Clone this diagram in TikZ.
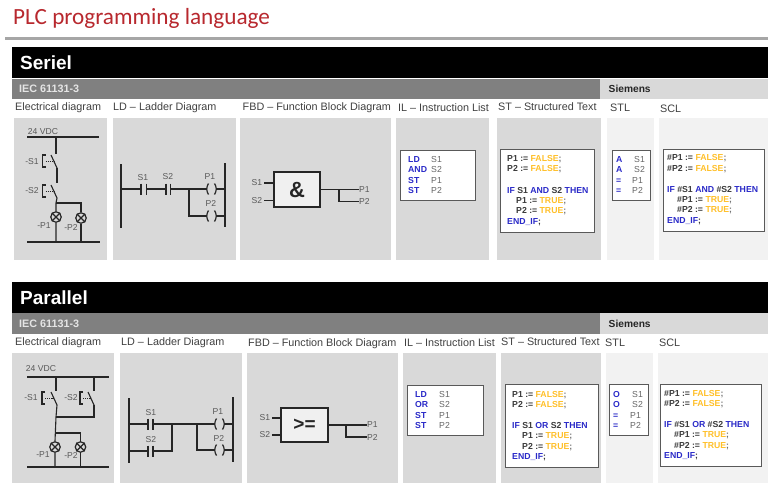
\documentclass[tikz,border=0pt]{standalone}
\usepackage{fontspec}
\setmainfont{Liberation Sans}
\newfontfamily\carlito{Carlito}
\definecolor{ttl}{HTML}{B8282E}
\definecolor{panelA}{HTML}{D9D9D9}
\definecolor{panelB}{HTML}{F2F2F2}
\definecolor{bandA}{HTML}{808080}
\definecolor{kwblue}{HTML}{2A2AC8}
\definecolor{valyel}{HTML}{FFC02A}
\definecolor{ink}{HTML}{404040}
\definecolor{dark}{HTML}{262626}
\definecolor{code}{HTML}{3A3A3A}
\newcommand{\kw}[1]{\textcolor{kwblue}{#1}}
\newcommand{\vl}[1]{\textcolor{valyel}{#1}}
\newcommand{\fs}[1]{\fontsize{#1}{#1}\selectfont}
\tikzset{
  x=1pt,y=-1pt,
  txt/.style={anchor=west,inner sep=0pt,text depth=0pt,execute at begin node={\rule{0pt}{.72em}}},
  head/.style={txt,font=\fs{10.8},text=ink},
  secttl/.style={txt,font=\fs{19}\bfseries,text=white},
  iec/.style={txt,font=\fs{10.8}\bfseries,text=white!90!black},
  siem/.style={txt,font=\fs{10.2}\bfseries,text=dark},
  pa/.style={fill=panelA,draw=none},
  pb/.style={fill=panelB,draw=none},
  codebox/.style={fill=white,draw=black!65,line width=.8pt},
  cb/.style={txt,font=\fs{8.7}\bfseries,text=code},
  cbk/.style={cb,text=kwblue},
  cn/.style={txt,font=\fs{8.7},text=black!60},
  wire/.style={draw=dark,line width=1.3pt},
  thin wire/.style={draw=dark,line width=1.1pt},
  act/.style={draw=dark,line width=.5pt,dash pattern=on 1.2pt off .9pt},
  lbl/.style={anchor=center,inner sep=0pt,font=\fs{8.6},text=black!65},
  lamp/.style={circle,draw=dark,line width=1.2pt,fill=panelA,minimum size=10.5pt,inner sep=0pt},
  fbdbox/.style={fill=black!6,draw=dark,line width=1.1pt,inner sep=0pt},
}
% lamp: name x y
\newcommand{\lampat}[3]{%
  \node[lamp] (#1) at (#2,#3) {};
  \draw[thin wire] (#1.north west)--(#1.south east) (#1.north east)--(#1.south west);}
% manual switch: x of line, top y, bracket x
\newcommand{\switchat}[3]{%
  \draw[thin wire] (#1-6,#2) -- (#1,#2+13);
  \draw[wire,line width=1.3pt] (#3+3,#2) -| (#3,#2+12) -- (#3+3,#2+12);
  \draw[act] (#3+3,#2+6) -- (#1-3,#2+6);}
% contact: x1 x2 y
\newcommand{\contactat}[3]{\draw[thin wire,line width=1.2pt] (#1,#3-5.5)--(#1,#3+5.5) (#2,#3-5.5)--(#2,#3+5.5);}
% coil: x1 x2 y
\newcommand{\coilat}[3]{\draw[thin wire,line width=1.2pt]
  (#1+1.5,#3-5.5) .. controls (#1-.8,#3-2) and (#1-.8,#3+2) .. (#1+1.5,#3+5.5)
  (#2-1.5,#3-5.5) .. controls (#2+.8,#3-2) and (#2+.8,#3+2) .. (#2-1.5,#3+5.5);}
\begin{document}
\begin{tikzpicture}
\useasboundingbox (0,0) rectangle (768,483);
\fill[white] (0,0) rectangle (768,483);
\node[txt,font=\carlito\fs{23.2},text=ttl] (title) at (13,16) {PLC programming language};
\fill[black!35] (5,37) rectangle (768,40);

%% ---------- Seriel ----------
\fill[black] (12,47) rectangle (768,78);
\fill[bandA] (12,78.5) rectangle (600,99);
\fill[panelA] (600,78.5) rectangle (768,99);
\node[secttl] (t1) at (20,62.5) {Seriel};
\node[iec] (i1) at (19,88.5) {IEC 61131-3};
\node[siem] (s1) at (608.5,88.5) {Siemens};
\node[head] at (15,107) {Electrical diagram};
\node[head] at (113,107) {LD – Ladder Diagram};
\node[head] at (242.5,107) {FBD – Function Block Diagram};
\node[head] at (398,107.5) {IL – Instruction List};
\node[head] at (498,107) {ST – Structured Text};
\node[head] at (610,108) {STL};
\node[head] at (660,109) {SCL};
\fill[pa] (14,118) rectangle (107,260);
\fill[pa] (113,118) rectangle (236,260);
\fill[pa] (240,118) rectangle (391,260);
\fill[pa] (396,118) rectangle (489,260);
\fill[pa] (497,118) rectangle (601,260);
\fill[pb] (607,118) rectangle (654,260);
\fill[pb] (659,118) rectangle (768,260);

% electrical, serial
\node[lbl] at (43,132) {24 VDC};
\draw[wire] (27,137)--(99,137);
\draw[wire] (27,242)--(100,242);
\draw[wire,line width=1.1pt] (56,137)--(56,154);
\switchat{57}{155}{42.5}
\draw[wire,line width=1.1pt] (57,168)--(57,183);
\switchat{57}{185}{42.5}
\node[lbl] at (32,162) {-S1};
\node[lbl] at (32,190.5) {-S2};
\lampat{ls1}{56}{217}
\lampat{ls2}{81}{218}
\draw[wire,line width=1.1pt] (57,198)--(56,203) -- (ls1.north) (ls1.south)--(56,242);
\draw[wire,line width=1.1pt] (56,203) -| (ls2.north) (ls2.south)--(81,242);
\node[lbl] at (44,226) {-P1};
\node[lbl] at (71,227) {-P2};

% ladder, serial
\draw[wire] (121,164)--(121,228);
\draw[wire] (225,163)--(225,227);
\contactat{141}{146.5}{189}
\contactat{166}{170.5}{189}
\coilat{207}{216}{189}
\coilat{207}{216}{216}
\draw[thin wire] (121,189)--(141,189) (146.5,189)--(166,189) (170.5,189)--(207,189) (216,189)--(225,189);
\draw[wire,line width=1.1pt] (189,189)|-(207,216) (216,216)--(225,216);
\node[lbl] at (143,177.5) {S1};
\node[lbl] at (168,177) {S2};
\node[lbl] at (210,176.5) {P1};
\node[lbl] at (211,203) {P2};

% FBD, serial
\node[fbdbox,minimum width=46pt,minimum height=35pt,font=\fs{22}\bfseries,text=dark] (fb1) at (297,189.5) {\&};
\node[lbl] (fa1) at (257,183) {S1};
\node[lbl] (fa2) at (257,200.5) {S2};
\node[lbl] (fo1) at (364.5,189.5) {P1};
\node[lbl] (fo2) at (364.5,201.5) {P2};
\draw[wire] (fa1.east)+(2,0) -- (fb1.west|-fa1);
\draw[wire] (fa2.east)+(2,0) -- (fb1.west|-fa2);
\draw[wire] (fb1.east)--(fo1.west);
\coordinate (fj1) at (339,189.5);
\draw[wire] (fj1)|-(fo2.west);

% IL, serial
\draw[codebox] (400,150) rectangle (475,200);
\foreach \a/\b/\yy in {LD/S1/159,AND/S2/169.5,ST/P1/180,ST/P2/190}{
  \node[cbk] at (408,\yy) {\a};
  \node[cn] at (431,\yy) {\b};
}
% ST, serial
\draw[codebox] (500,149) rectangle (594,232);
\node[cb] at (507,158) {P1 := \vl{FALSE}\textcolor{black!55}{;}};
\node[cb] at (507,168.5) {P2 := \vl{FALSE}\textcolor{black!55}{;}};
\node[cb] at (507,190) {\kw{IF} S1 \kw{AND} S2 \kw{THEN}};
\node[cb] at (516,200) {P1 := \vl{TRUE}\textcolor{black!55}{;}};
\node[cb] at (516,210.5) {P2 := \vl{TRUE}\textcolor{black!55}{;}};
\node[cb] at (507,221) {\kw{END\_IF};};
% STL, serial
\draw[codebox] (612,150) rectangle (650,200);
\foreach \a/\b/\xx/\yy in {A/S1/634/159,A/S2/634/169.5,=/P1/632/180,=/P2/632/190}{
  \node[cbk] at (616,\yy) {\a};
  \node[cn] at (\xx,\yy) {\b};
}
% SCL, serial
\draw[codebox] (663,149) rectangle (764,231);
\node[cb] at (667,157.5) {\#P1 := \vl{FALSE}\textcolor{black!55}{;}};
\node[cb] at (667,168) {\#P2 := \vl{FALSE}\textcolor{black!55}{;}};
\node[cb] at (667,189) {\kw{IF} \#S1 \kw{AND} \#S2 \kw{THEN}};
\node[cb] at (677,199) {\#P1 := \vl{TRUE}\textcolor{black!55}{;}};
\node[cb] at (677,209.5) {\#P2 := \vl{TRUE}\textcolor{black!55}{;}};
\node[cb] at (667,220) {\kw{END\_IF};};

%% ---------- Parallel ----------
\fill[black] (12,282) rectangle (768,313);
\fill[bandA] (12,313) rectangle (600,334);
\fill[panelA] (600,313) rectangle (768,334);
\node[secttl] (t2) at (20,297.5) {Parallel};
\node[iec] (i2) at (19,323.5) {IEC 61131-3};
\node[siem] (s2) at (608.5,323.5) {Siemens};
\node[head] at (15,342) {Electrical diagram};
\node[head] at (121,342) {LD – Ladder Diagram};
\node[head] at (248,342.5) {FBD – Function Block Diagram};
\node[head] at (404,342.5) {IL – Instruction List};
\node[head] at (501,342) {ST – Structured Text};
\node[head] at (605,343) {STL};
\node[head] at (659,342.5) {SCL};
\fill[pa] (12,353) rectangle (114,483);
\fill[pa] (120,353) rectangle (242,483);
\fill[pa] (247,353) rectangle (398,483);
\fill[pa] (403,353) rectangle (496,483);
\fill[pa] (501,353) rectangle (601,483);
\fill[pb] (606,353) rectangle (653,483);
\fill[pb] (658,353) rectangle (768,483);

% electrical, parallel
\node[lbl] at (41,369) {24 VDC};
\draw[wire] (27,377)--(109,377);
\draw[wire] (27,467)--(109,467);
\draw[wire,line width=1.1pt] (56,377)--(56,391) (94,377)--(94,391);
\switchat{57}{392}{42}
\switchat{94}{392}{80}
\node[lbl] at (31,398) {-S1};
\node[lbl] at (71,398) {-S2};
\lampat{lp1}{55}{447}
\lampat{lp2}{80.5}{447}
\draw[wire,line width=1.1pt] (57,405)--(56,417) -- (lp1.north) (lp1.south)--(55,467);
\draw[wire,line width=1.1pt] (94,405)|-(56,417);
\draw[wire,line width=1.1pt] (55,433)-|(lp2.north) (lp2.south)--(80.5,467);
\node[lbl] at (43,455) {-P1};
\node[lbl] at (71,455) {-P2};

% ladder, parallel
\draw[wire] (129,398)--(129,463);
\draw[wire] (233,397)--(233,462);
\contactat{148}{153}{424}
\contactat{148}{153}{451}
\coilat{215}{224}{424}
\coilat{215}{224}{450}
\draw[thin wire] (129,424)--(148,424) (153,424)--(215,424) (224,424)--(233,424);
\draw[thin wire] (129,451)--(148,451);
\draw[wire,line width=1.1pt] (153,451)-|(172,424);
\draw[wire,line width=1.1pt] (197,424)|-(215,450) (224,450)--(233,450);
\node[lbl] at (151,413) {S1};
\node[lbl] at (151,440) {S2};
\node[lbl] at (218,412) {P1};
\node[lbl] at (219,438) {P2};

% FBD, parallel
\node[fbdbox,minimum width=47pt,minimum height=34pt,font=\fs{19}\bfseries,text=dark] (fb2) at (304.5,425) {>=};
\node[lbl] (fc1) at (265,418) {S1};
\node[lbl] (fc2) at (265,435) {S2};
\node[lbl] (fp1) at (372.5,425) {P1};
\node[lbl] (fp2) at (372.5,437) {P2};
\draw[wire] (fc1.east)+(2,0) -- (fb2.west|-fc1);
\draw[wire] (fc2.east)+(2,0) -- (fb2.west|-fc2);
\draw[wire] (fb2.east)--(fp1.west);
\coordinate (fj2) at (346,425);
\draw[wire] (fj2)|-(fp2.west);

% IL, parallel
\draw[codebox] (407,385) rectangle (483,435);
\foreach \a/\b/\yy in {LD/S1/394,OR/S2/404.5,ST/P1/415,ST/P2/425}{
  \node[cbk] at (415,\yy) {\a};
  \node[cn] at (439,\yy) {\b};
}
% ST, parallel
\draw[codebox] (505,384) rectangle (598,467);
\node[cb] at (512,394) {P1 := \vl{FALSE}\textcolor{black!55}{;}};
\node[cb] at (512,404) {P2 := \vl{FALSE}\textcolor{black!55}{;}};
\node[cb] at (512,425) {\kw{IF} S1 \kw{OR} S2 \kw{THEN}};
\node[cb] at (522,435.5) {P1 := \vl{TRUE}\textcolor{black!55}{;}};
\node[cb] at (522,446) {P2 := \vl{TRUE}\textcolor{black!55}{;}};
\node[cb] at (512,456.5) {\kw{END\_IF};};
% STL, parallel
\draw[codebox] (609,384) rectangle (648,435);
\foreach \a/\b/\xx/\yy in {O/S1/632/394,O/S2/632/404.5,=/P1/630/415,=/P2/630/425}{
  \node[cbk] at (613,\yy) {\a};
  \node[cn] at (\xx,\yy) {\b};
}
% SCL, parallel
\draw[codebox] (660,384) rectangle (761,466);
\node[cb] at (664,393) {\#P1 := \vl{FALSE}\textcolor{black!55}{;}};
\node[cb] at (664,403) {\#P2 := \vl{FALSE}\textcolor{black!55}{;}};
\node[cb] at (664,424) {\kw{IF} \#S1 \kw{OR} \#S2 \kw{THEN}};
\node[cb] at (674,434.5) {\#P1 := \vl{TRUE}\textcolor{black!55}{;}};
\node[cb] at (674,445) {\#P2 := \vl{TRUE}\textcolor{black!55}{;}};
\node[cb] at (664,455.5) {\kw{END\_IF};};
\end{tikzpicture}
\end{document}
